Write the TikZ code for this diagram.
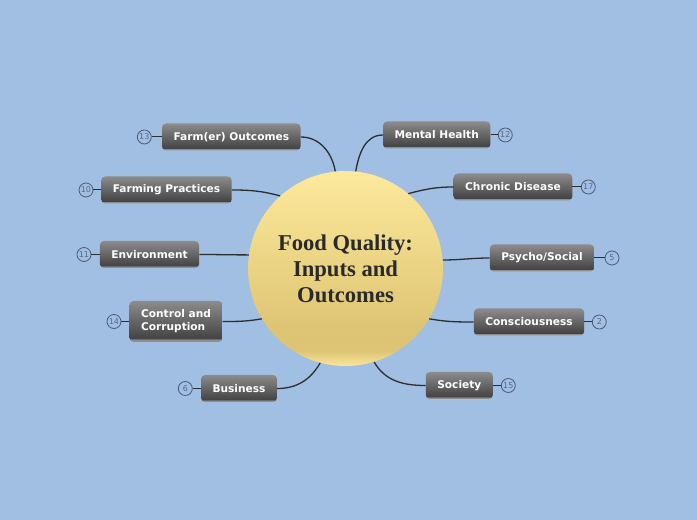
\documentclass[tikz,border=0pt]{standalone}
\usepackage{fontspec}
\newfontfamily\boxfont{DejaVu Sans}
\newfontfamily\titlefont{Liberation Serif}
\definecolor{bg}{HTML}{A1BEE3}
\definecolor{boxtop}{HTML}{8C8C8C}
\definecolor{boxbot}{HTML}{444444}
\definecolor{boxrim}{HTML}{8E8E8E}
\definecolor{cirtop}{HTML}{FDE99D}
\definecolor{cirmid}{HTML}{EAD383}
\definecolor{cirdark}{HTML}{DCC474}
\definecolor{cirbot}{HTML}{FBE69B}
\definecolor{conn}{HTML}{2E2E2E}
\definecolor{badgeline}{HTML}{4D5B75}
\definecolor{badgetext}{HTML}{5A6A85}
\definecolor{titletext}{HTML}{2A2A2A}
\pgfdeclareverticalshading{boxshade}{100bp}{color(0bp)=(boxrim); color(25bp)=(boxrim); color(28bp)=(boxrim); color(29.5bp)=(boxbot); color(75bp)=(boxtop); color(100bp)=(boxtop)}
\pgfdeclareverticalshading{circshade}{100bp}{color(0bp)=(cirbot); color(25bp)=(cirbot); color(29bp)=(cirdark); color(34bp)=(cirdark); color(50bp)=(cirmid); color(75bp)=(cirtop); color(100bp)=(cirtop)}
\tikzset{
  mbox/.style={rounded corners=4pt, shading=boxshade, text=white,
    font=\boxfont\bfseries\fontsize{10.6}{13}\selectfont,
    inner xsep=11.5pt, inner ysep=0pt, minimum height=27pt, align=left},
  badge/.style={circle, draw=badgeline, line width=0.8pt, minimum size=14pt,
    inner sep=0pt, text=badgetext, font=\boxfont\fontsize{8}{9}\selectfont},
  connline/.style={draw=conn, line width=1.3pt},
  badgelink/.style={draw=conn, line width=1pt},
  central/.style={circle, minimum size=195pt, inner sep=0pt, shading=circshade,
    text=titletext, align=center,
    font=\titlefont\bfseries\fontsize{22.6}{26}\selectfont}
}
\begin{document}
\begin{tikzpicture}[x=1pt,y=1pt]
\useasboundingbox[fill=bg] (0,0) rectangle (697,520);

\node[central] (c) at (345.5,251.5) {Food Quality:\\Inputs and\\Outcomes};

\node[mbox] (farmer) at (231.3,383) {Farm(er) Outcomes};
\node[mbox] (fp) at (166.5,330) {Farming Practices};
\node[mbox] (env) at (149.5,265.5) {Environment};
\node[mbox, minimum height=41pt] (ctrl) at (176,198.5) {Control and\\Corruption};
\node[mbox] (bus) at (239,131.5) {Business};
\node[mbox] (mh) at (436.7,385) {Mental Health};
\node[mbox] (cd) at (513,333) {Chronic Disease};
\node[mbox] (ps) at (542,262) {Psycho/Social};
\node[mbox] (con) at (529,198) {Consciousness};
\node[mbox] (soc) at (459.3,134.5) {Society};

\node[badge] (b13) at (144.3,383) {13};
\node[badge] (b10) at (86,330) {10};
\node[badge] (b11) at (84,265.5) {11};
\node[badge] (b14) at (114,198.5) {14};
\node[badge] (b6) at (185.3,131.5) {6};
\node[badge] (b12) at (505.3,385) {12};
\node[badge] (b17) at (588.3,333) {17};
\node[badge] (b5) at (612,262) {5};
\node[badge] (b2) at (599.3,198) {2};
\node[badge] (b15) at (508.3,134.5) {15};

\draw[badgelink] (farmer.west) -- (b13.east);
\draw[badgelink] (fp.west) -- (b10.east);
\draw[badgelink] (env.west) -- (b11.east);
\draw[badgelink] (ctrl.west) -- (b14.east);
\draw[badgelink] (bus.west) -- (b6.east);
\draw[badgelink] (mh.east) -- (b12.west);
\draw[badgelink] (cd.east) -- (b17.west);
\draw[badgelink] (ps.east) -- (b5.west);
\draw[badgelink] (con.east) -- (b2.west);
\draw[badgelink] (soc.east) -- (b15.west);

\draw[connline] (c.96.8) to[out=100, in=0] (farmer.east);
\draw[connline] (c.84) to[out=80, in=180] (mh.west);
\draw[connline] (c.132) to[out=165, in=0] (fp.east);
\draw[connline] (c.50.5) to[out=15, in=180] (cd.west);
\draw[connline] (c.172) to[out=180, in=0] (env.east);
\draw[connline] (c.5.6) to[out=0, in=180] (ps.west);
\draw[connline] (c.211) to[out=190, in=0] (ctrl.east);
\draw[connline] (c.-31.9) to[out=-10, in=180] (con.west);
\draw[connline] (c.255) to[out=240, in=0] (bus.east);
\draw[connline] (c.287) to[out=300, in=180] (soc.west);
\end{tikzpicture}
\end{document}
